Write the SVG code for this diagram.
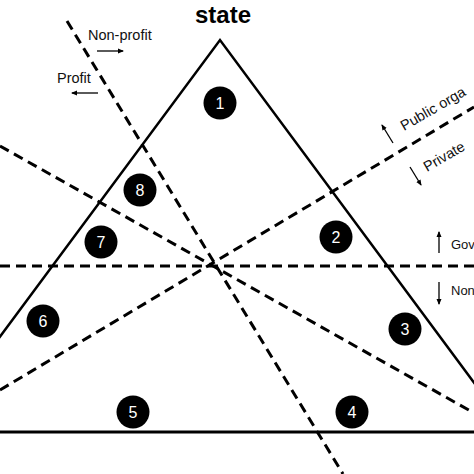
<svg xmlns="http://www.w3.org/2000/svg" width="474" height="474" viewBox="0 0 474 474">
<style>
.dash{fill:none;stroke:#000;stroke-width:3;stroke-dasharray:10,6}
.solid{fill:none;stroke:#000;stroke-width:2.5}
.arr{stroke:#000;stroke-width:1.3;marker-end:url(#ah)}
.lbl{font-family:"Liberation Sans",Arial,sans-serif;font-size:14.5px;fill:#111}
.num{font-family:"Liberation Sans",Arial,sans-serif;font-size:16px;fill:#fff;text-anchor:middle}
.title{font-family:"Liberation Sans",Arial,sans-serif;font-size:24px;font-weight:bold;fill:#000;text-anchor:middle}
</style>
<defs>
<marker id="ah" markerWidth="6" markerHeight="6" refX="5" refY="3" orient="auto" markerUnits="userSpaceOnUse">
<path d="M0,0.5 L6,3 L0,5.5 Z" fill="#000"/>
</marker>
</defs>
<rect width="474" height="474" fill="#fff"/>
<g id="connectors">
<polyline class="solid" points="-4,342 220,40 478,388"/>
<line x1="0" y1="432" x2="474" y2="432" stroke="#000" stroke-width="3"/>
<line class="dash" x1="0" y1="266" x2="474" y2="266"/>
<line class="dash" x1="67" y1="21" x2="343" y2="474"/>
<line class="dash" x1="0" y1="390" x2="474" y2="107"/>
<line class="dash" x1="0" y1="146" x2="474" y2="413"/>
<line class="arr" x1="97" y1="51" x2="123" y2="51"/>
<line class="arr" x1="98" y1="93" x2="72" y2="93"/>
<line class="arr" x1="393" y1="143" x2="382" y2="125"/>
<line class="arr" x1="410" y1="167" x2="421" y2="185"/>
<line class="arr" x1="439" y1="253" x2="439" y2="232"/>
<line class="arr" x1="439" y1="282" x2="439" y2="304"/>
</g>
<g id="title"><text class="title" x="223" y="23">state</text></g>
<g id="labels">
<text class="lbl" x="88" y="40">Non-profit</text>
<text class="lbl" x="57" y="83">Profit</text>
<text class="lbl" transform="translate(404,131) rotate(-30)">Public orga</text>
<text class="lbl" transform="translate(427,172) rotate(-30)">Private</text>
<text class="lbl" x="451" y="249" style="font-size:13px">Gov</text>
<text class="lbl" x="451" y="295" style="font-size:13px">Non</text>
</g>
<g id="n1"><circle cx="220" cy="103" r="16.5"/><text class="num" x="220" y="108.5">1</text></g>
<g id="n2"><circle cx="336" cy="237" r="16.5"/><text class="num" x="336" y="242.5">2</text></g>
<g id="n3"><circle cx="405" cy="329" r="16.5"/><text class="num" x="405" y="334.5">3</text></g>
<g id="n4"><circle cx="352" cy="412" r="16.5"/><text class="num" x="352" y="417.5">4</text></g>
<g id="n5"><circle cx="133" cy="412" r="16.5"/><text class="num" x="133" y="417.5">5</text></g>
<g id="n6"><circle cx="43" cy="321" r="16.5"/><text class="num" x="43" y="326.5">6</text></g>
<g id="n7"><circle cx="101" cy="242" r="16.5"/><text class="num" x="101" y="247.5">7</text></g>
<g id="n8"><circle cx="140" cy="190" r="16.5"/><text class="num" x="140" y="195.5">8</text></g>
</svg>
